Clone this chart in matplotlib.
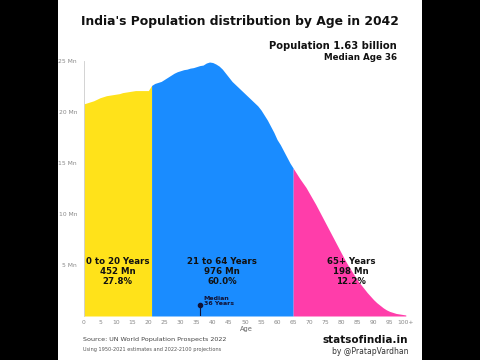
import matplotlib.pyplot as plt
from matplotlib.patches import Rectangle
import numpy as np

# population (millions) by single year of age, 2042 projection
ages = list(range(0, 101))
population = [
    20.8, 20.9, 21.0, 21.1, 21.25, 21.4, 21.5, 21.6, 21.65, 21.7,
    21.75, 21.8, 21.9, 21.95, 22.0, 22.05, 22.1, 22.1, 22.1, 22.1,
    22.1, 22.6, 22.8, 22.9, 23.0, 23.2, 23.4, 23.6, 23.8, 23.95,
    24.05, 24.15, 24.2, 24.3, 24.35, 24.45, 24.55, 24.6, 24.8, 24.9,
    24.85, 24.7, 24.5, 24.2, 23.8, 23.4, 23.0, 22.7, 22.4, 22.1,
    21.8, 21.5, 21.2, 20.9, 20.6, 20.2, 19.7, 19.2, 18.6, 18.0,
    17.3, 16.8, 16.2, 15.6, 15.0, 14.5, 14.0, 13.5, 13.05, 12.6,
    12.05, 11.5, 10.95, 10.35, 9.75, 9.15, 8.55, 7.95, 7.35, 6.75,
    6.15, 5.55, 5.0, 4.5, 4.0, 3.5, 3.1, 2.7, 2.3, 1.95,
    1.6, 1.3, 1.05, 0.8, 0.6, 0.45, 0.35, 0.25, 0.2, 0.15,
    0.1,
]

# age groups: edges, colours, labels
group_edges = [0, 21, 65, 100]
group_colors = ["#FFE21A", "#1A8CFF", "#FF3DAA"]
group_labels = ["0 to 20 Years\n452 Mn\n27.8%",
                "21 to 64 Years\n976 Mn\n60.0%",
                "65+ Years\n198 Mn\n12.2%"]
group_label_x = [10.5, 43, 83]

median_age = 36
xtick_vals = list(range(0, 101, 5))
xtick_labels = [str(v) for v in range(0, 100, 5)] + ["100+"]
ytick_vals = [5, 10, 15, 20, 25]
ytick_labels = ["%d Mn" % v for v in ytick_vals]

fig = plt.figure(figsize=(4.8, 3.6), dpi=100, facecolor="black")
# white card in the middle
fig.patches.append(Rectangle((58 / 480, 0), 364 / 480, 1, transform=fig.transFigure,
                             facecolor="white", edgecolor="none", zorder=-5))

ax = fig.add_axes([84 / 480, 44 / 360, 325 / 480, 255 / 360])
ax.set_facecolor("none")
ax.set_zorder(2)

x = np.array(ages, dtype=float)
y = np.array(population)
for i, c in enumerate(group_colors):
    lo, hi = group_edges[i], group_edges[i + 1]
    m = (x >= lo) & (x <= hi)
    ax.fill_between(x[m], 0, y[m], color=c, linewidth=0)
    ax.text(group_label_x[i], 4.4, group_labels[i], ha="center", va="center",
            fontsize=6.2, fontweight="bold", color="#111111", linespacing=1.15)

# median marker
ax.plot([median_age, median_age], [0, 1.1], color="#111133", linewidth=0.8)
ax.plot([median_age], [1.1], marker="o", markersize=3, color="#111133")
ax.text(median_age + 1.2, 1.5, "Median\n36 Years", fontsize=4.5, fontweight="bold",
        color="#111133", va="center", ha="left", linespacing=1.05)

ax.set_xlim(0, 101)
ax.set_ylim(0, 25)
ax.set_xticks(xtick_vals)
ax.set_xticklabels(xtick_labels)
ax.set_yticks(ytick_vals)
ax.set_yticklabels(ytick_labels)
ax.tick_params(length=0, labelsize=4.3, colors="#888888")
ax.tick_params(axis="x", pad=3)
ax.tick_params(axis="y", pad=5)
ax.set_xlabel("Age", fontsize=4.8, color="#666666", labelpad=0.5)
for s in ["top", "right", "bottom"]:
    ax.spines[s].set_visible(False)
ax.spines["left"].set_color("#cccccc")
ax.spines["left"].set_linewidth(0.6)

# titles
fig.text(240 / 480, 1 - 22 / 360, "India's Population distribution by Age in 2042",
         ha="center", va="center", fontsize=8.9, fontweight="bold", color="#111111")
fig.text(397 / 480, 1 - 46 / 360, "Population 1.63 billion", ha="right", va="center",
         fontsize=7.2, fontweight="bold", color="#111111")
fig.text(397 / 480, 1 - 58 / 360, "Median Age 36", ha="right", va="center",
         fontsize=6.3, fontweight="bold", color="#111111")

# footer
fig.text(83 / 480, 1 - 340 / 360, "Source: UN World Population Prospects 2022",
         ha="left", va="center", fontsize=4.6, color="#444444")
fig.text(83 / 480, 1 - 349 / 360, "Using 1950-2021 estimates and 2022-2100 projections",
         ha="left", va="center", fontsize=3.6, color="#555555")
fig.text(408 / 480, 1 - 340 / 360, "statsofindia.in", ha="right", va="center",
         fontsize=7.5, fontweight="bold", color="#111111")
fig.text(408 / 480, 1 - 352 / 360, "by @PratapVardhan", ha="right", va="center",
         fontsize=5.5, color="#333333")

fig.savefig("out.png", dpi=100, facecolor="black")
